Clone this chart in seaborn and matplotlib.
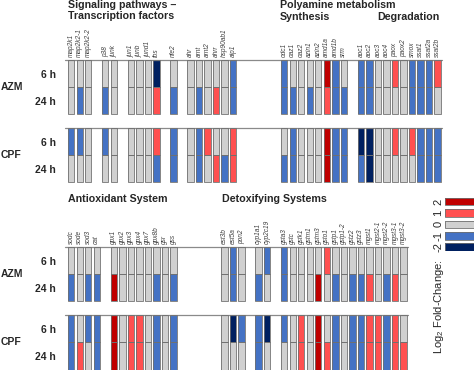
import numpy as np
import matplotlib
matplotlib.use("Agg")
import matplotlib.pyplot as plt
import seaborn as sns
from matplotlib.colors import ListedColormap
from matplotlib.patches import Rectangle
from matplotlib import transforms

# === Gene groups (top panel) ===
signal_groups = [["map2k1", "map2k2-1", "map2k2-2"], ["p38", "junk"],
                 ["jun1", "junb", "jund1", "fos"], ["nfe2"],
                 ["ahr", "arnt", "arnt2", "ahrr", "hsp90ab1", "aip1"]]
polyamine_groups = [["odc1", "oaz1", "oaz2", "azin1", "azin2", "amd1a", "amd1b", "srm"],
                    ["aoc1", "aoc2", "aoc3", "aoc4", "paox", "paox2", "smox", "ssat1", "ssat2a", "ssat2b"]]

# === Gene groups (bottom panel) ===
antiox_groups = [["sodc", "sode", "sod3", "cat"],
                 ["gpx1", "gpx2", "gpx3", "gpx4", "gpx7", "gpx8b", "gsr", "gss"]]
detox_groups = [["est3b", "est5a", "pon2"], ["cyp1a1", "cyp2c19"],
                ["gsta3", "gstc", "gstk1", "gstm1", "gstm3", "gsto1", "gstp1", "gstp1-2",
                 "gstz2", "gstz3", "mgst1", "mgst2-1", "mgst2-2", "mgst3-1", "mgst3-2"]]

# === Log2 fold-change classes (-2..2) ===
top_azm_6h = [0, 0, 0, 0, 0, 0, 0, 0, -2, 0, 0, 0, 0, 0, 0, -1,
              -1, 0, 0, 0, 0, 2, -1, 0, -1, -1, 0, 0, 1, 0, -1, -1, -1, 1]
top_azm_24h = [0, -1, 0, -1, 0, 0, 0, 0, 1, -1, 0, -1, 0, 1, 0, -1,
               -1, -1, 0, -1, 0, 1, -1, -1, -1, -1, 0, 0, 0, 0, -1, -1, -1, 0]
top_cpf_6h = [-1, -1, 0, -1, 0, 0, 0, 0, 1, -1, 0, -1, 1, 0, 0, 1,
              0, -1, 0, 0, 0, 2, -1, -1, -2, -2, 0, 0, 1, 0, 1, -1, -1, -1]
top_cpf_24h = [0, 0, 0, 0, 0, 0, 0, 0, -1, -1, 0, -1, 0, 1, -1, 1,
               -1, -1, 0, 0, 0, 2, -1, -1, -1, -2, 0, 0, 0, 0, 0, -1, -1, -1]

bot_azm_6h = [0, 0, 0, 0, 0, 0, 0, 0, 0, 0, 0, 0,
              0, -1, 0, 0, -1, -1, 0, 0, 0, 0, 1, 0, 0, 0, 0, 0, 0, 0, 0, 0]
bot_azm_24h = [-1, 0, -1, -1, 2, 0, 0, 0, 0, -1, 0, -1,
               0, -1, 0, -1, 0, -1, 0, 0, 0, 2, 0, -1, 0, -1, -1, 1, 0, -1, 1, 0]
bot_cpf_6h = [-1, 0, -1, -1, 2, 0, 1, 1, 0, -1, 0, -1,
              0, -2, -1, -1, -2, -1, 0, 1, 0, 2, 0, -1, 0, -1, -1, 1, 1, -1, 1, 0]
bot_cpf_24h = [-1, 1, 0, -1, 2, 0, 1, 1, 0, -1, 0, -1,
               0, 0, 0, -1, 0, 0, 0, 1, 0, 2, 1, -1, 0, -1, -1, 1, 1, -1, 1, 1]

legend_levels = [2, 1, 0, -1, -2]
level_colors = ["#002060", "#4472C4", "#D0D0D0", "#FF5050", "#C00000"]

# === Figure setup ===
sns.set_style("white")
plt.rcParams["font.family"] = ["Liberation Sans", "DejaVu Sans"]
plt.rcParams["mathtext.fontset"] = "custom"
plt.rcParams["mathtext.rm"] = "Liberation Sans"

W, H = 474, 370
fig = plt.figure(figsize=(W / 100, H / 100), dpi=100)
cmap = ListedColormap(level_colors)
edge = "#707070"
SLOT = 8.52      # px per gene slot
ROW_PX = 122.5   # px height of a panel (9 sub rows)


def draw_panel(top_px, sections, rows):
    genes, pos, s = [], [], 0
    for si, sec in enumerate(sections):
        if si > 0:
            s += 5
        for gi, grp in enumerate(sec):
            if gi > 0:
                s += 1
            for g in grp:
                genes.append(g)
                pos.append(s)
                s += 1
    nslots = s
    ax = fig.add_axes([68 / W, 1 - (top_px + ROW_PX) / H, nslots * SLOT / W, ROW_PX / H])

    # each gene = 3 sub columns + 1 blank, each condition row = 2 sub rows
    row_starts = [0, 2, 5, 7]
    mat = np.full((9, 4 * nslots), np.nan)
    for r0, vals in zip(row_starts, rows):
        for p, v in zip(pos, vals):
            mat[r0:r0 + 2, 4 * p:4 * p + 3] = v
    sns.heatmap(mat, ax=ax, cmap=cmap, vmin=-2.5, vmax=2.5, cbar=False,
                mask=np.isnan(mat), xticklabels=False, yticklabels=False)

    for yline in [0, 5]:
        ax.plot([-1.5, 4 * nslots - 0.5], [yline, yline], color="#8a8a8a", lw=0.9,
                clip_on=False, zorder=1)
    for r0 in row_starts:
        for p in pos:
            ax.add_patch(Rectangle((4 * p, r0), 3, 2, fill=False, ec=edge, lw=0.6,
                                   clip_on=False, zorder=3))

    ax.set_xticks([4 * p + 1.5 for p in pos])
    ax.set_xticklabels(genes, rotation=90, fontsize=4.7, fontstyle="italic", color="#404040")
    ax.xaxis.tick_top()
    ax.tick_params(axis="x", length=0, pad=2.5)
    ax.set_yticks([1, 3, 6, 8])
    ax.set_yticklabels(["6 h", "24 h", "6 h", "24 h"], fontsize=7.5, fontweight="bold")
    ax.tick_params(axis="y", length=0, pad=8.6)

    trans = transforms.blended_transform_factory(fig.transFigure, ax.transData)
    ax.text(1 / W, 2, "AZM", transform=trans, ha="left", va="center",
            fontsize=7.5, fontweight="bold")
    ax.text(1 / W, 7, "CPF", transform=trans, ha="left", va="center",
            fontsize=7.5, fontweight="bold")
    return ax


draw_panel(60, [signal_groups, polyamine_groups],
           [top_azm_6h, top_azm_24h, top_cpf_6h, top_cpf_24h])
draw_panel(247, [antiox_groups, detox_groups],
           [bot_azm_6h, bot_azm_24h, bot_cpf_6h, bot_cpf_24h])

# === Titles ===
tkw = dict(fontsize=7.7, fontweight="bold", va="top", ha="left", linespacing=1.1)
fig.text(68 / W, 1 - 0.5 / H, "Signaling pathways \u2013\nTranscription factors", **tkw)
fig.text(280 / W, 1 - 0.5 / H, "Polyamine metabolism", **tkw)
fig.text(280 / W, 1 - 12.5 / H, "Synthesis", **tkw)
fig.text(377 / W, 1 - 12.5 / H, "Degradation", **tkw)
fig.text(68 / W, 1 - 194 / H, "Antioxidant System", **tkw)
fig.text(222 / W, 1 - 194 / H, "Detoxifying Systems", **tkw)

# === Legend ===
ax_leg = fig.add_axes([445 / W, 1 - 251 / H, 35 / W, 53.3 / H])
leg_mat = np.full((14, 1), np.nan)
for i, lev in enumerate(legend_levels):
    leg_mat[3 * i:3 * i + 2, 0] = lev
sns.heatmap(leg_mat, ax=ax_leg, cmap=cmap, vmin=-2.5, vmax=2.5, cbar=False,
            mask=np.isnan(leg_mat), xticklabels=False, yticklabels=False)
ltrans = transforms.blended_transform_factory(fig.transFigure, ax_leg.transData)
for i, lev in enumerate(legend_levels):
    ax_leg.add_patch(Rectangle((0, 3 * i), 1, 2, fill=False, ec=edge, lw=0.6, zorder=3))
    ax_leg.text(438.5 / W, 3 * i + 1, str(lev), transform=ltrans, rotation=90,
                ha="center", va="center", fontsize=8)
fig.text(438.5 / W, 1 - 307 / H, r"Log$_2$ Fold-Change:", rotation=90,
         ha="center", va="center", fontsize=8)

fig.savefig("out.png", dpi=100)
